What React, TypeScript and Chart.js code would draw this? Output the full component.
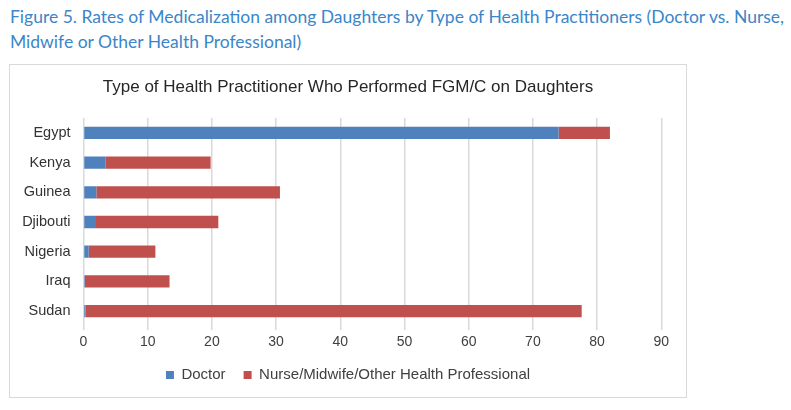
import React, { useEffect, useRef } from "react";
import { Chart, registerables } from "chart.js";

Chart.register(...registerables);

const countries = ["Egypt", "Kenya", "Guinea", "Djibouti", "Nigeria", "Iraq", "Sudan"];
const doctor = [74, 3.4, 2.0, 1.8, 0.8, 0.2, 0.3];
const nurseOther = [8, 16.4, 28.6, 19.2, 10.4, 13.2, 77.3];
const xTicks = [0, 10, 20, 30, 40, 50, 60, 70, 80, 90];

const FONT = "'Liberation Sans', Arial, sans-serif";

const App: React.FC = () => {
  const canvasRef = useRef<HTMLCanvasElement>(null);
  const chartRef = useRef<Chart | null>(null);

  useEffect(() => {
    if (!canvasRef.current) return;
    const ctx = canvasRef.current.getContext("2d");
    if (!ctx) return;
    if (chartRef.current) chartRef.current.destroy();

    chartRef.current = new Chart(ctx, {
      type: "bar",
      data: {
        labels: countries,
        datasets: [
          {
            label: "Doctor",
            data: doctor,
            backgroundColor: "#4f81bd",
            barPercentage: 0.9,
            categoryPercentage: 0.46,
          },
          {
            label: "Nurse/Midwife/Other Health Professional",
            data: nurseOther,
            backgroundColor: "#c0504d",
            barPercentage: 0.9,
            categoryPercentage: 0.46,
          },
        ],
      },
      options: {
        indexAxis: "y",
        animation: false,
        responsive: true,
        maintainAspectRatio: false,
        layout: { padding: { left: 0, right: 0, top: 0, bottom: 4.5 } },
        plugins: {
          title: {
            display: true,
            text: "Type of Health Practitioner Who Performed FGM/C on Daughters",
            color: "#262626",
            font: { family: FONT, size: 17, weight: "normal" },
            padding: { top: 12, bottom: 20.6 },
          },
          legend: {
            position: "bottom",
            labels: {
              color: "#404040",
              font: { family: FONT, size: 15 },
              boxWidth: 8,
              boxHeight: 8,
              padding: 18,
            },
          },
          tooltip: { enabled: false },
        },
        scales: {
          x: {
            stacked: true,
            min: 0,
            max: 90,
            afterBuildTicks: (scale: any) => {
              scale.ticks = xTicks.map((v) => ({ value: v }));
            },
            afterFit: (scale: any) => {
              scale.height = 23.5;
            },
            grid: {
              color: "#d9d9d9",
              lineWidth: 1.5,
              tickLength: 4,
            },
            border: { display: false },
            ticks: {
              color: "#404040",
              font: { family: FONT, size: 14 },
              padding: 4,
            },
          },
          y: {
            stacked: true,
            afterFit: (scale: any) => {
              scale.width = 73.5;
            },
            grid: { display: false },
            border: { display: false },
            ticks: {
              color: "#333333",
              font: { family: FONT, size: 14.5 },
              padding: 5,
            },
          },
          // empty right-hand spacer so the plot ends at 90 while title/legend stay centred
          spacer: {
            type: "linear",
            axis: "y",
            position: "right",
            display: true,
            afterFit: (scale: any) => {
              scale.width = 24.7;
            },
            grid: { display: false },
            border: { display: false },
            ticks: { display: false },
          },
        },
      },
    });

    return () => {
      if (chartRef.current) {
        chartRef.current.destroy();
        chartRef.current = null;
      }
    };
  }, []);

  return (
    <div
      style={{
        position: "absolute",
        left: 0,
        top: 0,
        width: 791,
        height: 410,
        background: "#ffffff",
      }}
    >
      <div
        style={{
          position: "absolute",
          left: 10,
          top: 4,
          width: 790,
          fontFamily: "Lato, 'Open Sans', sans-serif",
          fontSize: 17.5,
          lineHeight: "25px",
          color: "#3a86c8",
          whiteSpace: "nowrap",
        }}
      >
        Figure 5. Rates of Medicalization among Daughters by Type of Health Practitioners (Doctor vs. Nurse,
        <br />
        Midwife or Other Health Professional)
      </div>
      <div
        style={{
          position: "absolute",
          left: 9,
          top: 64,
          width: 678,
          height: 334,
          boxSizing: "border-box",
          border: "1px solid #d9d9d9",
        }}
      >
        <div style={{ position: "relative", width: 676, height: 332 }}>
          <canvas ref={canvasRef}></canvas>
        </div>
      </div>
    </div>
  );
};

export default App;
